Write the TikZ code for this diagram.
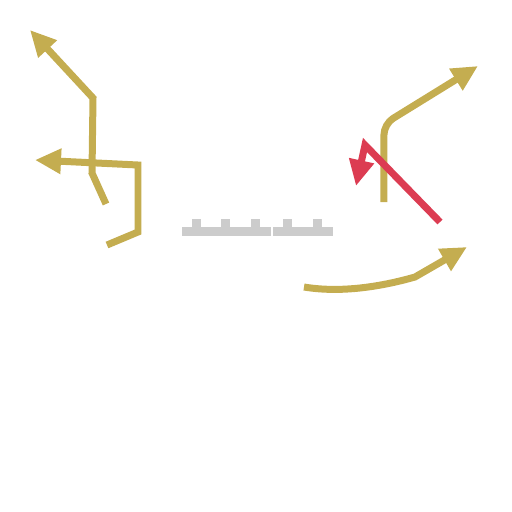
\documentclass[tikz,border=0pt]{standalone}
\usetikzlibrary{arrows.meta}
\definecolor{oro}{RGB}{196,173,80}
\definecolor{rosso}{RGB}{220,60,82}
\definecolor{grigio}{RGB}{204,204,204}
\tikzset{
    corsa/.style={draw=oro,line width=0.14cm,-{Triangle[length=0.52cm,width=0.48cm]}},
    blocco/.style={fill=grigio,draw=none}
}
\begin{document}
\begin{tikzpicture}[x=0.02cm,y=-0.02cm]
        \useasboundingbox (0,0) rectangle (512,512);
        %%%%%%%%%% Blocchi %%%%%%%%%%
        \foreach \cx in {197,226,256,288,318} {
            \fill[blocco] (\cx-15,227) rectangle (\cx+15,236);
            \fill[blocco] (\cx-4.5,219) rectangle (\cx+4.5,227);
        }

        %%%%%%%%% Frecce %%%%%%%%%
        \draw[corsa] (106,204) -- (92,173) -- (93,98) -- (30,30);
        \draw[corsa] (107,245) -- (138,232) -- (138,165) -- (35,160);
        \draw[corsa,rounded corners=6] (384,202) -- (384,124) -- (478,66);
        \draw[corsa] (304,287) .. controls (340,293) and (380,287) .. (415,277) -- (467,247);
        \draw[draw=rosso,line width=0.14cm,-{Triangle[length=0.52cm,width=0.48cm]}] (440,222) -- (365,145) -- (356,186);
    \end{tikzpicture}
\end{document}
